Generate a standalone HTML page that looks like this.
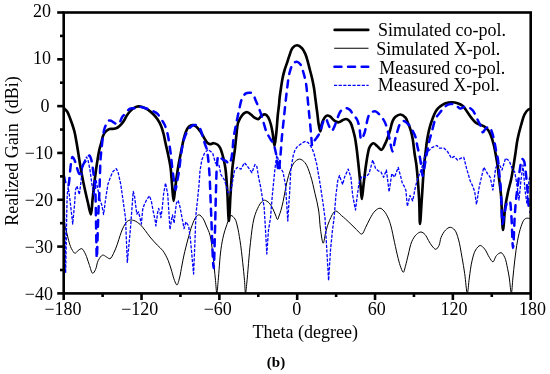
<!DOCTYPE html>
<html><head><meta charset="utf-8"><style>
html,body{margin:0;padding:0;background:#fff;}
svg{display:block;}
text{font-family:"Liberation Serif","Times New Roman",serif;font-size:18px;fill:#000;}
</style></head><body>
<svg width="550" height="374" viewBox="0 0 550 374">
<defs><clipPath id="c"><rect x="63.7" y="12.5" width="467.0" height="280.9"/></clipPath></defs>
<g clip-path="url(#c)" fill="none" stroke-linejoin="round">
<path d="M63.70,108.00 C64.90,109.27 66.29,110.26 67.30,111.80 C68.46,113.57 69.16,116.06 70.00,118.20 C70.82,120.30 71.57,122.31 72.30,124.50 C73.08,126.83 73.86,129.21 74.50,131.80 C75.21,134.67 75.75,137.95 76.30,141.00 C76.85,144.01 77.26,146.67 77.80,150.00 C78.47,154.15 79.22,159.34 80.00,164.00 C80.78,168.67 81.63,173.52 82.50,178.00 C83.30,182.16 84.11,185.92 85.00,190.00 C85.93,194.25 86.99,198.80 88.00,203.00 C88.96,206.96 90.16,214.55 90.90,214.50 C91.72,214.44 91.98,204.79 92.50,200.00 C93.01,195.29 93.44,190.82 94.00,186.00 C94.60,180.84 95.30,175.05 96.00,170.00 C96.64,165.44 97.35,160.81 98.00,157.00 C98.51,154.01 98.90,151.54 99.50,149.00 C100.05,146.65 100.78,144.54 101.40,142.30 C102.02,140.04 102.34,137.42 103.20,135.50 C103.92,133.89 104.80,132.50 105.90,131.40 C106.93,130.37 108.16,129.44 109.50,129.00 C110.88,128.55 112.68,129.08 114.10,128.80 C115.39,128.54 116.56,128.19 117.70,127.50 C119.01,126.71 120.31,125.30 121.40,124.10 C122.43,122.96 123.25,121.83 124.10,120.50 C125.06,119.00 125.79,117.04 126.80,115.50 C127.77,114.02 128.76,112.67 130.00,111.40 C131.31,110.06 132.96,108.54 134.50,107.70 C135.81,106.98 137.11,106.50 138.50,106.40 C139.94,106.30 141.48,106.70 143.00,107.20 C144.71,107.77 146.52,108.67 148.20,109.80 C150.06,111.05 152.03,112.87 153.60,114.50 C155.02,115.98 156.14,117.39 157.30,119.10 C158.59,121.01 159.88,123.16 160.90,125.50 C162.02,128.08 162.84,131.11 163.60,134.00 C164.37,136.94 164.80,139.79 165.50,143.00 C166.31,146.72 167.37,150.99 168.20,155.00 C169.03,158.99 169.89,162.64 170.50,167.00 C171.22,172.16 171.48,178.33 172.00,184.00 C172.52,189.67 173.04,200.99 173.60,201.00 C174.05,201.01 174.53,193.75 175.00,190.00 C175.49,186.09 175.93,182.08 176.50,178.00 C177.09,173.75 177.75,169.33 178.50,165.00 C179.25,160.66 180.15,156.24 181.00,152.00 C181.82,147.92 182.59,143.64 183.50,140.00 C184.28,136.91 184.95,133.90 186.00,131.50 C186.85,129.55 187.73,127.59 189.00,126.50 C190.05,125.60 191.48,124.96 192.70,125.00 C193.94,125.04 195.21,125.86 196.40,126.80 C197.97,128.04 199.56,130.34 200.90,132.30 C202.26,134.28 203.34,136.75 204.50,138.60 C205.46,140.13 206.25,141.77 207.30,142.70 C208.13,143.43 209.01,143.98 210.00,144.10 C211.09,144.23 212.40,143.14 213.60,143.20 C214.83,143.26 216.24,143.77 217.30,144.50 C218.39,145.25 219.23,146.37 220.00,147.70 C220.98,149.40 221.63,151.88 222.30,154.10 C223.01,156.44 223.57,158.93 224.10,161.40 C224.64,163.90 225.08,165.82 225.50,169.00 C226.19,174.25 226.68,182.32 227.20,190.00 C227.83,199.33 228.33,221.00 228.90,221.00 C229.43,221.00 229.93,203.67 230.50,195.00 C231.07,186.33 231.65,175.71 232.30,169.00 C232.71,164.75 233.15,162.03 233.60,158.60 C234.05,155.23 234.56,152.19 235.00,148.60 C235.51,144.42 235.88,139.39 236.40,135.00 C236.89,130.87 237.15,125.99 238.00,123.00 C238.54,121.09 239.14,119.99 240.00,118.50 C240.96,116.85 242.22,114.65 243.60,113.60 C244.71,112.75 246.11,112.08 247.30,112.20 C248.54,112.33 249.73,113.63 250.90,114.50 C252.13,115.42 253.22,116.82 254.50,117.60 C255.67,118.31 257.05,119.33 258.20,119.10 C259.50,118.84 260.48,116.26 261.80,115.50 C262.94,114.84 264.44,114.21 265.50,114.50 C266.57,114.80 267.41,116.05 268.20,117.30 C269.31,119.06 270.17,121.93 270.90,124.50 C271.70,127.33 272.14,130.32 272.70,133.60 C273.35,137.41 273.91,146.00 274.50,146.00 C275.11,146.00 275.78,137.69 276.30,133.00 C276.91,127.49 277.28,120.12 277.80,115.00 C278.19,111.18 278.69,108.04 279.00,105.00 C279.26,102.46 279.31,100.54 279.60,98.00 C279.94,94.96 280.50,91.33 281.00,88.00 C281.50,84.66 281.96,81.13 282.60,78.00 C283.18,75.17 283.82,72.64 284.60,70.00 C285.39,67.34 286.44,64.69 287.30,62.10 C288.13,59.60 288.81,57.11 289.70,54.70 C290.58,52.34 291.17,49.39 292.60,47.80 C293.78,46.48 295.57,45.28 297.10,45.30 C298.70,45.32 300.66,46.85 302.00,48.20 C303.44,49.65 304.37,51.82 305.30,53.90 C306.31,56.16 306.96,58.76 307.70,61.30 C308.47,63.95 309.09,66.74 309.80,69.50 C310.52,72.31 311.32,75.04 312.00,78.00 C312.73,81.19 313.45,84.66 314.00,88.00 C314.55,91.32 314.91,94.96 315.30,98.00 C315.63,100.54 315.88,102.57 316.20,105.00 C316.54,107.63 316.93,110.28 317.30,113.20 C317.73,116.55 318.04,120.74 318.60,124.00 C319.07,126.74 319.77,131.51 320.30,131.50 C320.83,131.49 321.07,126.36 321.80,124.00 C322.49,121.77 323.37,119.17 324.50,117.70 C325.31,116.64 326.33,115.67 327.30,115.50 C328.17,115.35 329.10,115.84 330.00,116.40 C331.20,117.14 332.43,119.05 333.60,120.00 C334.55,120.77 335.49,121.42 336.40,121.80 C337.15,122.11 337.80,122.40 338.60,122.30 C339.67,122.17 340.99,121.05 342.20,120.50 C343.39,119.96 344.71,119.01 345.80,119.00 C346.71,118.99 347.54,119.44 348.30,120.00 C349.21,120.67 349.99,121.71 350.70,123.00 C351.68,124.80 352.40,127.71 353.10,130.10 C353.80,132.48 354.38,134.77 354.90,137.30 C355.46,140.05 355.82,142.53 356.30,146.00 C357.01,151.11 357.81,158.58 358.50,165.00 C359.21,171.58 359.91,178.93 360.50,185.00 C360.99,190.08 361.30,198.99 361.80,199.00 C362.30,199.01 362.87,190.08 363.50,185.00 C364.25,178.93 365.15,170.81 366.00,165.00 C366.66,160.48 367.28,156.28 368.00,153.00 C368.51,150.67 368.64,148.75 369.60,147.10 C370.50,145.55 372.10,143.40 373.40,143.30 C374.60,143.21 375.84,144.99 377.10,146.00 C378.51,147.13 380.15,149.96 381.40,149.80 C382.65,149.64 383.61,146.83 384.60,145.00 C385.78,142.82 386.88,139.98 387.80,137.50 C388.67,135.15 389.25,133.02 390.00,130.50 C390.88,127.56 391.55,123.36 392.70,120.90 C393.51,119.16 394.25,117.86 395.50,116.80 C396.82,115.69 398.86,114.39 400.50,114.50 C402.20,114.62 404.23,116.24 405.50,117.70 C406.83,119.23 407.34,121.51 408.20,123.60 C409.14,125.89 410.16,128.38 410.90,130.90 C411.67,133.50 412.14,135.83 412.70,139.00 C413.48,143.42 414.11,150.29 414.80,155.00 C415.34,158.73 415.88,160.66 416.40,165.00 C417.35,172.96 418.50,188.53 419.10,199.00 C419.62,207.97 419.55,223.99 420.00,224.00 C420.45,224.01 421.17,207.97 421.80,199.00 C422.53,188.54 423.32,173.44 424.10,165.00 C424.56,159.97 425.04,156.91 425.50,153.00 C425.94,149.25 426.31,145.37 426.80,142.00 C427.22,139.12 427.66,136.62 428.20,134.00 C428.73,131.43 429.28,128.97 430.00,126.40 C430.76,123.70 431.73,120.74 432.70,118.20 C433.57,115.91 434.46,113.58 435.50,111.80 C436.33,110.37 437.23,109.23 438.20,108.20 C439.08,107.26 439.91,106.57 441.00,105.80 C442.31,104.88 443.88,103.78 445.60,103.20 C447.50,102.55 449.95,102.28 452.00,102.30 C453.90,102.32 455.72,102.62 457.50,103.20 C459.36,103.80 461.31,104.55 462.90,105.90 C464.71,107.44 465.98,110.17 467.50,112.30 C469.01,114.41 470.42,116.72 472.00,118.60 C473.44,120.32 474.87,122.12 476.50,123.20 C477.93,124.15 479.67,124.37 481.10,125.00 C482.39,125.57 483.56,125.97 484.70,126.80 C486.01,127.74 487.36,129.05 488.40,130.50 C489.52,132.05 490.28,133.83 491.10,135.90 C492.13,138.50 493.03,141.88 493.80,145.00 C494.60,148.24 495.18,151.66 495.80,155.00 C496.42,158.33 496.99,161.44 497.50,165.00 C498.08,169.04 498.46,173.38 499.00,178.00 C499.62,183.29 500.42,188.31 501.00,195.00 C501.84,204.57 502.20,229.98 503.00,230.00 C503.65,230.01 504.25,214.10 505.20,207.30 C505.99,201.68 506.97,196.78 508.00,192.00 C508.92,187.74 510.11,184.17 511.00,180.00 C511.96,175.53 512.74,170.58 513.50,166.00 C514.23,161.59 514.84,157.38 515.50,153.00 C516.17,148.54 516.60,144.06 517.50,139.50 C518.44,134.73 519.81,129.47 521.10,125.00 C522.23,121.08 523.20,116.86 524.70,114.10 C525.78,112.12 527.01,110.41 528.40,109.50 C529.50,108.77 530.80,108.83 532.00,108.50" stroke="#000" stroke-width="2.65"/>
<path d="M63.70,222.00 C64.33,224.00 64.97,225.73 65.60,228.00 C66.41,230.90 67.15,234.81 68.00,238.00 C68.79,240.96 69.61,244.23 70.50,246.50 C71.14,248.12 71.71,249.33 72.50,250.50 C73.23,251.57 74.08,253.24 75.00,253.30 C75.97,253.36 77.05,251.27 78.20,250.50 C79.32,249.75 80.70,248.41 81.80,248.70 C83.21,249.07 84.39,252.01 85.50,254.20 C86.90,256.97 87.87,260.95 89.10,264.20 C90.28,267.31 91.41,273.12 92.70,273.30 C93.59,273.42 94.69,271.20 95.50,269.60 C96.66,267.31 96.85,263.03 98.20,260.50 C99.36,258.33 101.14,255.44 102.70,255.10 C103.90,254.84 105.18,256.30 106.40,256.90 C107.61,257.50 108.91,258.99 110.00,258.70 C111.38,258.33 112.49,255.40 113.60,253.30 C114.97,250.72 116.20,247.22 117.30,244.20 C118.36,241.29 119.17,238.18 120.10,235.50 C120.91,233.17 121.62,231.00 122.50,229.00 C123.30,227.20 124.17,225.38 125.10,224.00 C125.86,222.88 126.60,221.88 127.50,221.20 C128.29,220.60 129.23,220.15 130.10,220.00 C130.90,219.86 131.68,220.05 132.50,220.20 C133.38,220.37 134.21,220.52 135.20,221.00 C136.66,221.71 138.62,223.05 140.20,224.50 C141.98,226.14 143.58,228.44 145.20,230.50 C146.85,232.60 148.17,234.76 150.00,237.00 C152.12,239.60 155.02,242.70 157.30,245.10 C159.21,247.11 161.04,248.28 162.70,250.50 C164.74,253.21 166.69,257.01 168.20,260.50 C169.72,264.01 170.71,268.01 171.80,271.50 C172.79,274.64 173.47,278.06 174.50,280.50 C175.26,282.31 176.23,285.06 177.00,285.00 C177.93,284.92 178.76,280.72 179.50,278.00 C180.49,274.36 181.21,269.05 182.00,265.00 C182.70,261.45 183.17,258.71 184.00,255.00 C185.06,250.28 186.61,244.09 188.00,239.00 C189.28,234.29 190.50,229.43 192.00,225.50 C193.22,222.29 194.51,218.81 196.00,217.00 C196.94,215.86 197.95,214.74 199.00,214.80 C200.27,214.87 201.85,216.91 203.00,218.50 C204.41,220.46 205.28,223.36 206.40,226.00 C207.62,228.87 209.03,231.48 210.00,235.10 C211.33,240.06 211.86,246.62 212.70,253.30 C213.72,261.45 214.75,273.10 215.50,280.50 C216.02,285.59 216.35,293.40 216.80,293.40 C217.25,293.40 217.69,285.73 218.20,280.50 C218.99,272.42 219.76,257.95 220.90,249.60 C221.69,243.84 222.55,239.35 223.60,235.10 C224.44,231.69 225.26,229.11 226.40,226.00 C227.65,222.59 229.11,215.92 230.90,215.50 C232.13,215.21 233.96,217.45 235.00,219.00 C236.21,220.81 236.59,223.22 237.30,226.00 C238.31,229.94 239.17,235.16 240.00,240.50 C241.01,247.04 241.93,255.44 242.70,262.40 C243.40,268.72 244.01,274.97 244.50,280.50 C244.91,285.16 245.09,293.39 245.50,293.40 C245.87,293.41 246.30,287.61 246.80,283.00 C247.78,273.90 249.09,254.11 250.50,242.30 C251.59,233.14 252.37,224.54 254.10,218.00 C255.33,213.34 257.11,209.29 258.60,206.40 C259.57,204.52 260.39,203.06 261.50,202.00 C262.40,201.13 263.38,200.20 264.50,200.20 C265.91,200.20 267.94,201.76 269.30,203.10 C270.80,204.58 271.86,206.90 272.90,208.90 C273.92,210.87 274.68,213.12 275.50,215.00 C276.20,216.62 276.89,219.50 277.50,219.50 C278.04,219.50 278.50,217.31 279.00,216.00 C279.63,214.36 280.29,212.49 280.90,210.40 C281.66,207.81 282.41,204.75 283.10,201.60 C283.89,198.01 284.45,194.07 285.30,190.00 C286.25,185.43 287.10,180.12 288.60,175.50 C290.06,171.03 291.79,165.48 294.10,162.70 C295.68,160.81 297.69,159.11 299.50,159.10 C301.32,159.09 303.40,160.80 305.00,162.70 C307.33,165.47 308.92,170.79 310.50,175.50 C312.33,180.95 313.62,187.71 315.00,193.60 C316.31,199.19 317.70,204.27 318.60,210.00 C319.58,216.19 319.63,223.59 320.50,229.50 C321.23,234.49 322.27,243.19 323.20,243.20 C324.07,243.21 324.83,235.23 325.90,231.40 C326.94,227.67 327.89,223.92 329.50,220.50 C331.10,217.12 333.27,211.40 335.50,211.00 C337.31,210.67 339.63,214.07 341.40,215.50 C342.91,216.72 344.06,217.70 345.50,219.00 C347.19,220.52 349.10,222.37 350.90,224.10 C352.73,225.87 354.54,227.80 356.40,229.50 C358.18,231.13 360.29,234.36 361.80,234.10 C363.34,233.84 364.25,230.04 365.50,227.70 C366.97,224.95 368.37,221.45 370.00,218.60 C371.55,215.90 373.09,212.78 375.00,211.00 C376.51,209.59 378.45,208.12 380.00,208.20 C381.43,208.27 382.78,209.69 384.00,211.00 C385.58,212.70 387.05,215.53 388.20,218.00 C389.36,220.50 390.02,222.76 390.90,225.90 C392.14,230.35 393.28,236.84 394.50,242.30 C395.72,247.74 396.99,253.97 398.20,258.60 C399.11,262.09 399.90,265.22 400.90,267.70 C401.64,269.53 402.57,272.35 403.30,272.30 C404.13,272.24 404.78,268.33 405.50,265.90 C406.43,262.77 407.22,258.82 408.20,255.00 C409.30,250.74 410.16,245.16 411.80,241.50 C413.07,238.66 414.64,236.12 416.40,234.50 C417.79,233.22 419.53,231.96 421.00,232.00 C422.39,232.04 423.83,233.30 425.00,234.50 C426.41,235.96 427.31,238.55 428.50,240.50 C429.65,242.38 430.69,244.48 432.00,246.00 C433.15,247.34 434.63,249.39 435.80,249.30 C436.96,249.21 438.16,247.13 439.00,245.50 C440.09,243.38 440.01,239.88 441.10,237.30 C442.20,234.71 443.85,231.71 445.60,230.00 C446.98,228.65 448.68,227.29 450.20,227.30 C451.71,227.31 453.45,228.54 454.70,230.00 C456.41,231.99 457.32,235.48 458.40,239.10 C459.89,244.07 460.93,251.39 462.00,257.30 C463.01,262.87 463.85,267.90 464.70,273.60 C465.63,279.87 466.49,293.40 467.30,293.40 C468.01,293.40 468.54,283.26 469.30,278.00 C470.10,272.44 470.78,265.92 472.00,260.90 C472.99,256.81 473.92,252.70 475.60,250.00 C476.86,247.98 478.64,245.58 480.20,245.50 C481.68,245.43 483.33,247.49 484.70,249.10 C486.45,251.16 487.77,255.03 489.30,257.30 C490.50,259.08 491.76,261.89 492.90,261.80 C494.18,261.70 494.99,257.05 496.50,255.50 C497.80,254.16 499.75,252.45 501.10,252.70 C502.50,252.96 503.72,255.31 504.70,257.30 C506.06,260.06 506.72,264.65 507.50,268.20 C508.23,271.54 508.73,274.36 509.30,278.00 C510.01,282.55 510.70,293.41 511.30,293.40 C511.90,293.39 512.35,283.27 512.90,278.00 C513.48,272.45 513.97,266.82 514.70,260.90 C515.49,254.49 516.32,247.00 517.50,240.90 C518.52,235.65 519.66,230.35 521.10,226.40 C522.17,223.49 523.14,220.35 524.70,219.10 C525.77,218.25 527.20,218.06 528.40,218.20 C529.63,218.34 530.80,219.40 532.00,220.00" stroke="#000" stroke-width="1"/>
<path d="M63.70,175.00 C64.47,178.00 64.95,182.15 66.00,184.00 C66.58,185.02 67.45,186.18 68.00,186.00 C69.24,185.59 69.44,176.28 70.00,172.00 C70.47,168.39 70.68,164.75 71.20,162.00 C71.57,160.03 71.87,157.11 72.50,157.00 C73.03,156.91 73.88,158.70 74.50,160.00 C75.44,161.98 76.11,165.54 77.00,168.00 C77.79,170.16 78.72,174.01 79.50,174.00 C80.21,173.99 80.83,170.67 81.50,169.00 C82.17,167.33 82.75,165.42 83.50,164.00 C84.11,162.84 84.80,162.08 85.50,161.00 C86.30,159.77 87.22,157.98 88.00,157.00 C88.52,156.34 89.03,155.40 89.50,155.50 C90.28,155.67 91.04,158.91 91.60,161.00 C92.29,163.60 92.54,166.92 93.00,170.00 C93.48,173.24 94.02,176.66 94.40,180.00 C94.78,183.33 95.06,185.77 95.30,190.00 C95.71,197.32 95.76,209.41 96.00,220.00 C96.26,231.92 96.47,258.00 96.80,258.00 C97.09,258.00 97.50,238.55 97.80,230.00 C98.06,222.77 98.22,216.67 98.50,210.00 C98.78,203.33 99.19,197.34 99.50,190.00 C99.87,181.01 100.03,167.54 100.50,160.00 C100.78,155.43 101.09,152.88 101.50,149.00 C101.97,144.61 102.59,138.76 103.20,135.00 C103.61,132.44 103.87,130.61 104.50,128.60 C105.09,126.69 106.00,124.62 106.80,123.20 C107.38,122.17 107.84,121.07 108.60,120.70 C109.27,120.37 110.18,120.55 111.00,120.80 C112.01,121.11 113.09,122.13 114.10,122.70 C115.02,123.22 115.90,124.10 116.80,124.10 C117.70,124.10 118.71,123.52 119.50,122.70 C120.66,121.50 121.24,118.34 122.30,116.80 C123.12,115.61 123.97,115.09 125.00,114.00 C126.42,112.50 128.19,109.49 130.00,108.60 C131.41,107.91 133.10,108.56 134.50,108.20 C135.82,107.86 136.83,106.74 138.20,106.60 C139.81,106.43 141.88,107.26 143.60,107.70 C145.20,108.11 146.56,108.50 148.20,109.10 C150.15,109.81 152.85,110.92 154.50,111.80 C155.65,112.41 156.35,112.69 157.30,113.60 C158.76,115.00 160.52,118.03 161.80,120.00 C162.85,121.61 163.68,122.73 164.50,124.50 C165.56,126.78 166.51,129.66 167.30,132.70 C168.24,136.35 168.87,141.01 169.50,145.00 C170.09,148.76 170.53,152.11 171.00,156.00 C171.53,160.38 171.92,165.34 172.50,170.00 C173.08,174.67 173.93,180.31 174.50,184.00 C174.87,186.42 175.12,190.00 175.50,190.00 C175.94,190.00 176.52,184.47 177.00,182.00 C177.42,179.86 177.83,178.00 178.20,176.00 C178.57,174.00 178.91,172.08 179.20,170.00 C179.51,167.76 179.66,165.71 180.00,163.00 C180.47,159.23 181.13,153.54 181.80,149.50 C182.35,146.19 182.79,143.31 183.60,140.50 C184.35,137.91 185.27,135.41 186.40,133.20 C187.44,131.18 188.66,129.13 190.00,127.70 C191.11,126.52 192.25,125.31 193.60,125.00 C194.98,124.68 197.00,125.05 198.20,125.90 C199.48,126.81 200.17,128.80 200.90,130.50 C201.71,132.39 202.05,134.63 202.70,136.80 C203.41,139.15 204.27,141.85 205.00,144.10 C205.63,146.04 206.27,147.11 206.80,149.50 C207.79,153.95 208.47,161.29 209.10,169.00 C210.01,180.14 210.32,195.15 211.00,210.00 C211.81,227.66 212.89,268.00 213.60,268.00 C214.17,268.00 214.60,242.83 215.00,230.00 C215.41,216.84 215.62,201.77 216.00,190.00 C216.30,180.69 216.36,171.24 217.00,165.00 C217.39,161.23 217.43,156.41 218.50,156.00 C219.13,155.76 220.17,157.33 221.00,158.00 C221.83,158.67 222.63,159.49 223.50,160.00 C224.30,160.47 225.18,160.46 226.00,161.00 C227.03,161.68 228.17,164.13 229.00,164.00 C229.85,163.86 230.47,161.69 231.00,160.00 C231.80,157.46 232.08,153.49 232.50,150.00 C232.96,146.19 233.02,142.23 233.60,138.00 C234.26,133.20 235.44,127.56 236.40,122.70 C237.28,118.26 238.16,114.06 239.10,110.00 C239.97,106.22 240.50,102.03 241.80,99.10 C242.80,96.85 244.05,94.61 245.50,93.60 C246.58,92.84 247.90,92.70 249.10,92.70 C250.30,92.70 251.72,92.77 252.70,93.60 C254.05,94.74 254.58,97.86 255.50,100.00 C256.42,102.13 257.32,104.19 258.20,106.40 C259.12,108.72 260.04,111.04 260.90,113.60 C261.85,116.44 262.68,119.67 263.60,122.70 C264.52,125.74 265.40,129.38 266.40,131.80 C267.10,133.51 267.83,134.63 268.60,136.00 C269.36,137.36 270.20,138.75 271.00,140.00 C271.73,141.14 272.53,141.77 273.20,143.20 C274.28,145.51 275.11,149.21 275.90,153.00 C276.96,158.07 277.72,171.01 278.50,171.00 C279.24,170.99 279.95,160.42 280.50,155.00 C281.06,149.43 281.28,143.67 281.80,138.00 C282.32,132.30 282.99,126.69 283.60,120.90 C284.23,114.93 284.87,108.44 285.50,102.70 C286.07,97.54 286.54,92.92 287.20,88.00 C287.87,83.02 288.32,77.36 289.50,73.00 C290.46,69.44 291.56,65.40 293.20,63.60 C294.24,62.47 295.62,61.70 296.80,61.80 C298.06,61.91 299.50,63.18 300.50,64.50 C301.80,66.22 302.37,69.10 303.20,71.80 C304.20,75.05 305.22,78.93 305.90,82.70 C306.61,86.65 306.86,90.80 307.30,95.00 C307.76,99.42 308.20,104.52 308.60,108.60 C308.92,111.94 309.19,114.59 309.50,117.70 C309.82,120.98 310.19,124.41 310.50,127.80 C310.82,131.24 311.07,135.04 311.40,138.20 C311.68,140.85 311.64,145.39 312.30,145.50 C312.90,145.60 313.99,141.70 315.00,140.00 C315.96,138.38 317.27,137.05 318.20,135.50 C319.10,134.01 319.85,132.59 320.50,130.90 C321.24,128.97 321.64,126.43 322.30,124.50 C322.86,122.85 323.34,121.01 324.10,120.00 C324.62,119.30 325.35,118.46 325.90,118.60 C326.79,118.83 327.31,122.11 328.20,124.00 C329.23,126.18 330.66,130.87 331.80,130.90 C332.74,130.93 333.79,127.86 334.50,126.40 C335.11,125.13 335.31,124.24 335.90,122.70 C336.87,120.14 338.32,114.97 339.80,112.50 C340.79,110.85 341.72,109.50 343.00,108.80 C344.16,108.16 345.80,107.96 347.00,108.20 C348.12,108.42 349.09,109.13 350.00,110.00 C351.13,111.08 351.89,112.98 353.00,114.50 C354.21,116.15 355.97,117.55 357.00,119.50 C358.14,121.66 358.64,124.16 359.30,127.00 C360.14,130.61 360.21,139.34 361.30,139.50 C362.12,139.62 363.66,135.40 364.50,133.00 C365.45,130.29 365.75,126.99 366.50,124.00 C367.25,120.99 367.78,117.09 369.00,115.00 C369.82,113.59 370.86,112.59 372.00,112.00 C373.05,111.46 374.27,111.03 375.50,111.40 C377.36,111.96 379.87,115.03 381.50,117.00 C382.96,118.75 384.03,120.46 385.00,122.50 C386.07,124.75 386.73,127.24 387.50,130.00 C388.42,133.30 389.16,137.38 390.00,141.00 C390.82,144.54 391.68,151.51 392.50,151.50 C393.35,151.49 394.11,143.59 395.00,140.00 C395.79,136.80 396.61,133.80 397.50,131.00 C398.29,128.51 398.80,125.74 400.00,124.00 C400.94,122.63 402.20,121.06 403.50,121.00 C404.99,120.93 407.08,123.08 408.50,124.50 C409.92,125.92 410.91,127.61 412.00,129.50 C413.27,131.70 414.62,134.33 415.50,137.00 C416.42,139.81 416.62,142.79 417.30,146.00 C418.09,149.72 419.25,153.99 420.00,158.00 C420.75,161.99 421.36,166.68 421.80,170.00 C422.11,172.34 422.13,175.98 422.50,176.00 C422.96,176.02 423.93,169.99 424.50,167.00 C425.06,164.06 425.39,161.08 425.90,158.20 C426.39,155.41 426.97,152.73 427.50,150.00 C428.03,147.27 428.43,144.64 429.10,141.80 C429.84,138.67 430.82,135.52 431.80,132.00 C432.95,127.88 433.89,122.12 435.60,118.60 C436.88,115.97 438.65,114.31 440.20,112.30 C441.68,110.38 442.95,108.19 444.70,106.80 C446.32,105.51 448.33,104.37 450.20,104.10 C451.97,103.84 453.96,104.28 455.60,105.00 C457.30,105.75 458.61,108.37 460.20,108.60 C461.65,108.81 463.17,106.94 464.70,106.80 C466.20,106.66 467.93,107.07 469.30,107.70 C470.66,108.32 471.83,109.19 472.90,110.50 C474.32,112.24 475.29,115.29 476.50,117.70 C477.72,120.13 479.12,122.54 480.20,125.00 C481.25,127.40 481.85,132.15 482.90,132.30 C483.71,132.41 484.49,129.53 485.60,128.60 C486.65,127.72 488.29,126.45 489.30,126.80 C490.53,127.22 491.20,130.11 492.00,132.30 C493.08,135.27 493.94,139.65 494.70,143.20 C495.42,146.54 495.91,150.12 496.50,153.00 C496.97,155.28 497.53,156.85 497.90,159.10 C498.34,161.82 498.50,165.17 498.80,168.20 C499.10,171.23 499.40,174.30 499.70,177.30 C500.00,180.23 500.34,182.54 500.60,186.00 C500.98,191.11 501.18,198.67 501.50,205.00 C501.82,211.33 501.86,223.96 502.50,224.00 C502.99,224.03 503.73,216.57 504.50,213.00 C505.24,209.57 505.74,204.96 507.00,203.00 C507.70,201.91 508.84,200.73 509.50,201.00 C510.88,201.56 510.79,209.34 511.30,215.00 C512.08,223.67 512.42,248.00 513.00,248.00 C513.58,248.00 514.20,223.86 514.80,215.00 C515.20,209.02 515.52,204.72 516.00,200.00 C516.43,195.77 516.96,192.29 517.50,188.00 C518.12,183.05 518.83,176.57 519.50,172.00 C520.00,168.57 520.36,165.38 521.00,163.00 C521.44,161.37 521.91,159.08 522.50,159.00 C522.95,158.94 523.58,160.02 524.00,161.00 C524.80,162.87 525.05,166.61 525.50,170.00 C526.08,174.36 526.55,180.00 527.00,185.00 C527.45,190.00 527.77,195.51 528.20,200.00 C528.55,203.67 528.38,207.50 529.30,210.00 C529.94,211.73 531.10,212.67 532.00,214.00" stroke="#0000ff" stroke-width="2.5" stroke-linecap="round" stroke-dasharray="7,6.5"/>
<path d="M63.7,190.0 L64.6,215.0 L65.2,245.0 L65.6,273.0 L66.2,245.0 L66.7,215.0 L67.2,195.0 L68.2,187.0 L70.0,200.0 L72.7,224.0 L74.5,205.0 L75.5,190.0 L77.0,186.0 L79.3,194.6 L80.6,185.0 L82.5,168.0 L84.4,161.0 L86.5,157.0 L88.0,160.0 L90.0,170.0 L92.0,185.0 L94.0,195.0 L96.0,180.0 L98.0,190.0 L100.0,200.0 L101.8,205.0 L103.6,214.5 L105.5,200.0 L107.0,190.0 L108.0,184.0 L110.7,176.4 L113.0,171.4 L116.2,168.6 L118.0,171.8 L119.8,180.0 L120.7,184.0 L123.0,200.0 L125.5,218.0 L127.3,262.4 L130.5,228.0 L133.2,191.5 L134.5,196.0 L136.8,214.0 L138.6,212.0 L141.4,224.0 L142.7,209.5 L144.1,205.0 L146.8,199.5 L149.5,195.8 L151.4,201.3 L153.2,211.3 L155.0,219.5 L155.9,225.8 L157.7,212.2 L158.6,208.5 L160.0,212.2 L160.9,217.6 L162.3,207.6 L163.6,194.0 L165.5,183.0 L167.7,194.0 L169.0,214.0 L170.0,229.5 L171.5,220.0 L172.5,215.0 L174.1,223.2 L175.5,210.0 L176.5,203.0 L178.2,200.5 L180.0,207.0 L181.5,215.0 L184.1,228.6 L185.9,221.8 L188.6,225.9 L190.5,240.0 L193.6,274.0 L195.0,240.0 L195.9,215.0 L197.5,200.0 L199.0,185.0 L200.0,170.9 L201.8,160.0 L204.5,153.2 L208.2,149.5 L212.7,153.2 L215.5,163.0 L219.1,165.5 L220.9,174.5 L224.5,180.0 L228.2,192.7 L230.9,190.9 L234.5,170.9 L237.3,167.3 L240.9,169.1 L244.5,162.7 L248.2,167.3 L251.9,172.7 L255.0,164.5 L256.8,166.4 L258.6,177.3 L260.5,186.4 L262.3,197.3 L264.1,206.4 L265.5,230.0 L266.8,254.0 L268.5,230.0 L270.5,218.0 L272.3,195.5 L275.0,168.2 L276.8,155.5 L278.5,160.0 L280.5,168.0 L283.0,172.0 L285.5,185.0 L286.8,205.0 L287.8,221.0 L288.8,205.0 L289.8,190.0 L290.8,170.0 L293.2,155.5 L295.0,150.0 L297.0,147.0 L299.5,145.0 L302.7,142.7 L305.5,141.4 L308.2,142.7 L310.9,146.4 L312.7,150.0 L314.1,154.0 L316.8,164.5 L320.5,186.4 L323.2,204.5 L325.0,218.0 L326.8,250.0 L328.6,280.5 L330.5,250.0 L332.5,230.0 L334.1,218.0 L335.9,195.5 L337.7,180.9 L339.5,175.5 L341.0,180.0 L342.7,184.5 L344.5,177.3 L348.2,169.1 L350.9,177.3 L352.7,195.5 L355.5,210.0 L357.3,195.5 L359.1,182.7 L361.8,176.4 L365.5,177.3 L369.1,173.6 L372.7,160.0 L375.5,168.2 L378.2,170.9 L380.9,171.8 L383.6,177.3 L386.4,170.0 L389.1,191.8 L391.8,173.6 L394.5,177.3 L398.2,167.3 L400.9,177.3 L402.5,184.0 L404.1,186.0 L405.9,190.5 L407.3,206.4 L410.0,195.5 L412.7,200.9 L415.5,186.4 L418.2,177.3 L421.8,168.2 L425.5,153.6 L429.5,150.0 L432.3,147.3 L436.8,145.5 L439.5,148.2 L444.1,148.2 L447.7,151.8 L451.4,158.2 L454.1,156.4 L457.5,160.0 L461.1,158.2 L463.8,157.3 L466.5,168.2 L470.2,180.9 L472.9,186.4 L474.7,191.8 L476.5,204.5 L479.3,186.4 L483.8,167.3 L487.5,173.6 L490.2,177.3 L492.9,190.0 L495.6,168.2 L498.4,162.7 L502.0,170.0 L505.6,158.2 L509.3,160.9 L512.0,168.2 L514.7,171.8 L517.0,185.0 L519.0,200.0 L521.0,180.0 L523.0,165.0 L525.0,190.0 L527.0,204.0 L529.0,180.0 L532.0,170.0" stroke="#0000ff" stroke-width="1.3" stroke-dasharray="3.2,1.42"/>
</g>
<g stroke="#000" stroke-width="2.6" fill="none">
<rect x="63.7" y="12.5" width="467.0" height="280.9"/>
<line x1="57.2" y1="293.40" x2="63.70" y2="293.40"/><line x1="57.2" y1="246.58" x2="63.70" y2="246.58"/><line x1="57.2" y1="199.77" x2="63.70" y2="199.77"/><line x1="57.2" y1="152.95" x2="63.70" y2="152.95"/><line x1="57.2" y1="106.13" x2="63.70" y2="106.13"/><line x1="57.2" y1="59.32" x2="63.70" y2="59.32"/><line x1="57.2" y1="12.50" x2="63.70" y2="12.50"/><line x1="60" y1="269.99" x2="63.70" y2="269.99"/><line x1="60" y1="223.17" x2="63.70" y2="223.17"/><line x1="60" y1="176.36" x2="63.70" y2="176.36"/><line x1="60" y1="129.54" x2="63.70" y2="129.54"/><line x1="60" y1="82.72" x2="63.70" y2="82.72"/><line x1="60" y1="35.91" x2="63.70" y2="35.91"/><line x1="63.70" y1="293.40" x2="63.70" y2="300"/><line x1="141.53" y1="293.40" x2="141.53" y2="300"/><line x1="219.37" y1="293.40" x2="219.37" y2="300"/><line x1="297.20" y1="293.40" x2="297.20" y2="300"/><line x1="375.03" y1="293.40" x2="375.03" y2="300"/><line x1="452.87" y1="293.40" x2="452.87" y2="300"/><line x1="530.70" y1="293.40" x2="530.70" y2="300"/><line x1="102.62" y1="293.40" x2="102.62" y2="297"/><line x1="180.45" y1="293.40" x2="180.45" y2="297"/><line x1="258.28" y1="293.40" x2="258.28" y2="297"/><line x1="336.12" y1="293.40" x2="336.12" y2="297"/><line x1="413.95" y1="293.40" x2="413.95" y2="297"/><line x1="491.78" y1="293.40" x2="491.78" y2="297"/>
</g>
<text x="53" y="299.8" text-anchor="end">−40</text><text x="53" y="253.2" text-anchor="end">−30</text><text x="53" y="206.1" text-anchor="end">−20</text><text x="53" y="159.3" text-anchor="end">−10</text><text x="49.5" y="112.1" text-anchor="end">0</text><text x="51" y="64.1" text-anchor="end">10</text><text x="51" y="17.2" text-anchor="end">20</text>
<text x="63.0" y="315.1" text-anchor="middle">−180</text><text x="139.8" y="315.1" text-anchor="middle">−120</text><text x="217.8" y="315.1" text-anchor="middle">−60</text><text x="296.8" y="315.1" text-anchor="middle">0</text><text x="376.7" y="315.1" text-anchor="middle">60</text><text x="454.1" y="315.1" text-anchor="middle">120</text><text x="532.6" y="315.1" text-anchor="middle">180</text>
<text x="305.2" y="337.6" text-anchor="middle">Theta (degree)</text>
<text x="276" y="367.3" text-anchor="middle" style="font-size:15px;font-weight:bold">(b)</text>
<text transform="translate(17.7,151) rotate(-90)" text-anchor="middle" xml:space="preserve">Realized Gain  (dBi)</text>
<g stroke-width="2.6" fill="none">
<line x1="334.6" y1="29.9" x2="368.3" y2="29.9" stroke="#000" stroke-linecap="round"/>
<line x1="334.2" y1="48.3" x2="368.5" y2="48.3" stroke="#000" stroke-width="1.1"/>
<line x1="334.4" y1="66.8" x2="368.3" y2="66.8" stroke="#0000ff" stroke-width="2.4" stroke-linecap="round" stroke-dasharray="7.1,6.5"/>
<line x1="334" y1="85.4" x2="368.6" y2="85.4" stroke="#0000ff" stroke-width="1.4" stroke-dasharray="3.2,1.42"/>
</g>
<text x="378.0" y="36.1">Simulated co-pol.</text>
<text x="376.2" y="55.1">Simulated X-pol.</text>
<text x="379.2" y="73.5">Measured co-pol.</text>
<text x="377.8" y="91.2">Measured X-pol.</text>
</svg>
</body></html>
